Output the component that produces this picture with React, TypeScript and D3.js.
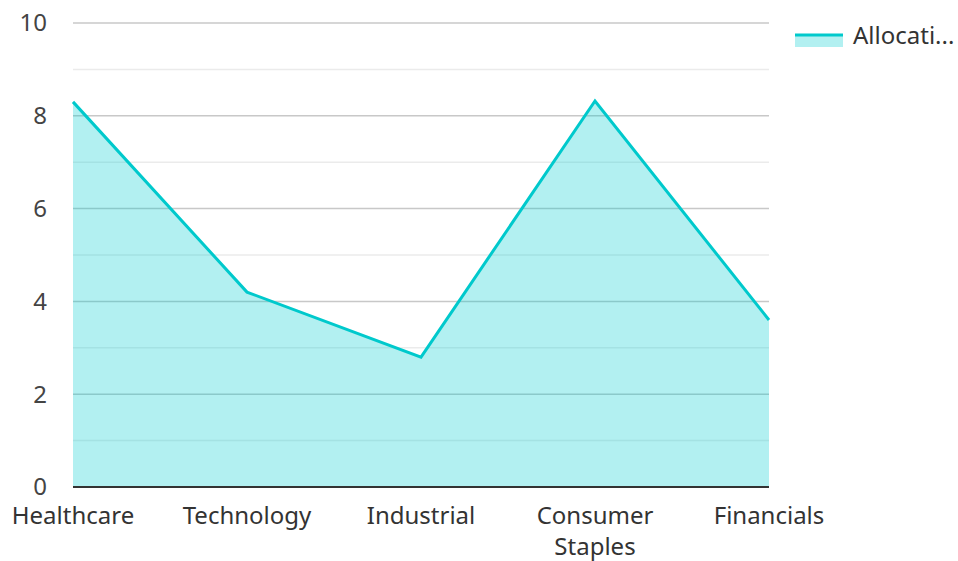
import * as d3 from "d3";
import { useEffect, useRef } from "react";

const categories = ["Healthcare", "Technology", "Industrial", "Consumer Staples", "Financials"];
const allocation = [8.3, 4.2, 2.8, 8.32, 3.6];
const majorTicks = [0, 2, 4, 6, 8, 10];
const minorTicks = [1, 3, 5, 7, 9];
const seriesName = "Allocation (%)";

const W = 958;
const H = 561;
const margin = { top: 23, right: 189, bottom: 74, left: 73 };

export default function App() {
  const svgRef = useRef<SVGSVGElement>(null);

  useEffect(() => {
    if (!svgRef.current) return;
    const svg = d3.select(svgRef.current);
    svg.selectAll("*").remove();

    const innerW = W - margin.left - margin.right;
    const innerH = H - margin.top - margin.bottom;
    const font = "'Noto Sans', 'Open Sans', sans-serif";

    const x = d3.scalePoint<string>().domain(categories).range([0, innerW]).padding(0);
    const y = d3.scaleLinear().domain([0, 10]).range([innerH, 0]);

    const g = svg.append("g").attr("transform", `translate(${margin.left},${margin.top})`);

    // minor grid
    g.append("g")
      .selectAll("line")
      .data(minorTicks)
      .enter()
      .append("line")
      .attr("x1", 0)
      .attr("x2", innerW)
      .attr("y1", (d) => y(d))
      .attr("y2", (d) => y(d))
      .style("stroke", "#ebebeb")
      .style("stroke-width", 1.5);

    // major grid
    g.append("g")
      .selectAll("line")
      .data(majorTicks.filter((d) => d !== 0))
      .enter()
      .append("line")
      .attr("x1", 0)
      .attr("x2", innerW)
      .attr("y1", (d) => y(d))
      .attr("y2", (d) => y(d))
      .style("stroke", "#c8c8c8")
      .style("stroke-width", 1.5);

    const data = categories.map((c, i) => ({ c, v: allocation[i] }));

    const area = d3
      .area<{ c: string; v: number }>()
      .x((d) => x(d.c) as number)
      .y0(innerH)
      .y1((d) => y(d.v));

    const line = d3
      .line<{ c: string; v: number }>()
      .x((d) => x(d.c) as number)
      .y((d) => y(d.v));

    g.append("path")
      .datum(data)
      .attr("d", area)
      .style("fill", "rgba(0, 206, 209, 0.3)");

    g.append("path")
      .datum(data)
      .attr("d", line)
      .style("fill", "none")
      .style("stroke", "#00c9cc")
      .style("stroke-width", 3)
      .style("stroke-linejoin", "miter");

    // x axis line
    g.append("line")
      .attr("x1", 0)
      .attr("x2", innerW)
      .attr("y1", innerH)
      .attr("y2", innerH)
      .style("stroke", "#333")
      .style("stroke-width", 2);

    // y labels
    g.append("g")
      .selectAll("text")
      .data(majorTicks)
      .enter()
      .append("text")
      .attr("x", -26)
      .attr("y", (d) => y(d))
      .attr("dy", "0.35em")
      .attr("text-anchor", "end")
      .style("font-family", font)
      .style("font-size", "24px")
      .style("fill", "#444")
      .text((d) => d);

    // x labels (wrapped)
    const xl = g
      .append("g")
      .selectAll("text")
      .data(categories)
      .enter()
      .append("text")
      .attr("x", (d) => x(d) as number)
      .attr("y", innerH + 37)
      .attr("text-anchor", "middle")
      .style("font-family", font)
      .style("font-size", "24px")
      .style("fill", "#333");
    xl.each(function (d) {
      const t = d3.select(this);
      const words = d.split(" ");
      words.forEach((w, i) => {
        t.append("tspan")
          .attr("x", x(d) as number)
          .attr("dy", i === 0 ? 0 : 31)
          .text(w);
      });
    });

    // legend
    const lg = svg.append("g").attr("transform", `translate(795, 34)`);
    lg.append("rect")
      .attr("x", 0)
      .attr("y", 0)
      .attr("width", 48)
      .attr("height", 13)
      .style("fill", "rgba(0, 206, 209, 0.3)");
    lg.append("line")
      .attr("x1", 0)
      .attr("x2", 48)
      .attr("y1", 1)
      .attr("y2", 1)
      .style("stroke", "#00c9cc")
      .style("stroke-width", 3);
    lg.append("text")
      .attr("x", 58)
      .attr("y", 2)
      .attr("dy", "0.35em")
      .style("font-family", font)
      .style("font-size", "24px")
      .style("fill", "#333")
      .text(seriesName.slice(0, 8) + "...");
  }, []);

  return (
    <svg
      ref={svgRef}
      width={W}
      height={H}
      style={{ position: "absolute", left: 0, top: 0, background: "#fff" }}
    />
  );
}
